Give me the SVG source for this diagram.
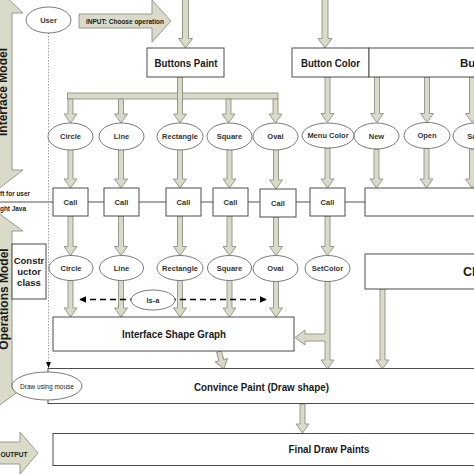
<svg xmlns="http://www.w3.org/2000/svg" width="474" height="474" viewBox="0 0 474 474">
<style>
.blk{fill:#d9dac8;stroke:#8f9086;stroke-width:0.9}
.box{fill:#ffffff;stroke:#4d4d4d;stroke-width:1}
.ov{fill:#ffffff;stroke:#6a6a6a;stroke-width:0.9}
.t{font-family:"Liberation Sans",Arial,sans-serif;fill:#1a1a1a;text-anchor:middle}
.b{font-weight:bold}
.o{font-size:7.5px;font-weight:bold;fill:#333}
.ln{stroke:#555;stroke-width:1;fill:none}
</style>
<defs>
<marker id="ah" viewBox="0 0 10 10" refX="9" refY="5" markerWidth="7" markerHeight="7" markerUnits="userSpaceOnUse" orient="auto-start-reverse">
<path d="M0,0 L10,5 L0,10 Z" fill="#000"/>
</marker>
</defs>
<rect width="474" height="474" fill="#ffffff"/>

<g id="side-arrows">
<path class="blk" d="M-3,-12 L23,13 H12 V170 H23 L-3,190 L-29,170 H-18 V13 H-29 Z"/>
<text class="t b" font-size="12" transform="translate(7,92) rotate(-90)">Interface Model</text>
<path class="blk" d="M-3,212 L23,231 H12 V388 H23 L-3,407 L-29,388 H-18 V231 H-29 Z"/>
<text class="t b" font-size="12" transform="translate(8,299) rotate(-90)">Operations Model</text>
</g>

<g id="connectors">
<line class="ln" x1="0" y1="202" x2="365" y2="202"/>
<line x1="48.5" y1="33" x2="48.5" y2="363" stroke="#888" stroke-width="0.8" stroke-dasharray="1.5,1.5"/>
<path d="M46,362 L51,362 L48.5,368 Z" fill="#000"/>
<path class="blk" d="M79,14 H152 V0 L171,21 L152,42 V28 H79 Z"/>
<path class="blk" d="M182.5,-2 V38.5 H178.5 L185.5,48 L192.5,38.5 H188.5 V-2 Z"/>
<path class="blk" d="M322,-2 V38.5 H318 L325,48 L332,38.5 H328 V-2 Z"/>
<rect class="blk" x="67.5" y="93" width="210.5" height="6"/>
<path class="blk" d="M68,99 V114 H64 L70.5,123 L77,114 H73 V99 Z"/>
<path class="blk" d="M118.5,99 V114 H114.5 L121,123 L127.5,114 H123.5 V99 Z"/>
<path class="blk" d="M226,99 V114 H222 L228.5,123 L235,114 H231 V99 Z"/>
<path class="blk" d="M273,99 V114 H269 L275.5,123 L282,114 H278 V99 Z"/>
<path class="blk" d="M177.5,77 V114 H173.5 L180,123 L186.5,114 H182.5 V77 Z"/>
<path class="blk" d="M325,77 V113.5 H321 L327.5,122.5 L334,113.5 H330 V77 Z"/>
<path class="blk" d="M374.5,77 V113.5 H370.5 L377,122.5 L383.5,113.5 H379.5 V77 Z"/>
<path class="blk" d="M424.5,77 V113.5 H420.5 L427,122.5 L433.5,113.5 H429.5 V77 Z"/>
<path class="blk" d="M469.5,77 V113.5 H465.5 L472,122.5 L478.5,113.5 H474.5 V77 Z"/>
<path class="blk" d="M68,149.5 V179 H64 L70.5,188 L77,179 H73 V149.5 Z"/>
<path class="blk" d="M118.5,149.5 V179 H114.5 L121,188 L127.5,179 H123.5 V149.5 Z"/>
<path class="blk" d="M177.5,149.5 V179 H173.5 L180,188 L186.5,179 H182.5 V149.5 Z"/>
<path class="blk" d="M227,149.5 V179 H223 L229.5,188 L236,179 H232 V149.5 Z"/>
<path class="blk" d="M273.5,149.5 V180 H269.5 L276,189 L282.5,180 H278.5 V149.5 Z"/>
<path class="blk" d="M325,148 V179 H321 L327.5,188 L334,179 H330 V148 Z"/>
<path class="blk" d="M374,149.5 V179 H370 L376.5,188 L383,179 H379 V149.5 Z"/>
<path class="blk" d="M424,148.5 V179 H420 L426.5,188 L433,179 H429 V148.5 Z"/>
<path class="blk" d="M469.5,149 V179 H465.5 L472,188 L478.5,179 H474.5 V149 Z"/>
<path class="blk" d="M68,216 V246.5 H64 L70.5,255.5 L77,246.5 H73 V216 Z"/>
<path class="blk" d="M118.5,216 V246.5 H114.5 L121,255.5 L127.5,246.5 H123.5 V216 Z"/>
<path class="blk" d="M177.5,216 V246.5 H173.5 L180,255.5 L186.5,246.5 H182.5 V216 Z"/>
<path class="blk" d="M227,216 V246.5 H223 L229.5,255.5 L236,246.5 H232 V216 Z"/>
<path class="blk" d="M273.5,217 V246.5 H269.5 L276,255.5 L282.5,246.5 H278.5 V217 Z"/>
<path class="blk" d="M325,216 V246.5 H321 L327.5,255.5 L334,246.5 H330 V216 Z"/>
<path class="blk" d="M68,280.5 V308 H64 L70.5,317 L77,308 H73 V280.5 Z"/>
<path class="blk" d="M118.5,280.5 V308 H114.5 L121,317 L127.5,308 H123.5 V280.5 Z"/>
<path class="blk" d="M177.5,280.5 V308 H173.5 L180,317 L186.5,308 H182.5 V280.5 Z"/>
<path class="blk" d="M227,280.5 V308 H223 L229.5,317 L236,308 H232 V280.5 Z"/>
<path class="blk" d="M273.5,281.5 V308 H269.5 L276,317 L282.5,308 H278.5 V281.5 Z"/>
<path class="blk" d="M325,281.5 V334 H305 V330 L295,337.5 L305,345 V341 H325 V360 H321 L327.5,369 L334,360 H330 V281.5 Z"/>
<path class="blk" d="M380,289 V360 H376 L382.5,369 L389,360 H385 V289 Z"/>
<path class="blk" transform="translate(219,351.5) rotate(-15)" d="M-2.5,0 V9 H-6.5 L0,18 L6.5,9 H2.5 V0 Z"/>
<path class="blk" d="M300,404 V424 H296 L302.5,433 L309,424 H305 V404 Z"/>
<path class="blk" d="M-2,442 H20 V432 L38,453 L20,474 V464 H-2 Z"/>
<line x1="80" y1="299.5" x2="266" y2="299.5" stroke="#000" stroke-width="1.3" stroke-dasharray="6,4" marker-start="url(#ah)" marker-end="url(#ah)"/>
</g>

<g id="labels-edge">
<text class="t b" font-size="8" x="125" y="24" textLength="78" lengthAdjust="spacingAndGlyphs">INPUT: Choose operation</text>
<text class="t b" font-size="7.5" x="14" y="457" textLength="27" lengthAdjust="spacingAndGlyphs">OUTPUT</text>
<text class="t b" font-size="7" x="15" y="196" textLength="30" lengthAdjust="spacingAndGlyphs">ft for user</text>
<text class="t b" font-size="7" x="13" y="211" textLength="26" lengthAdjust="spacingAndGlyphs">ght Java</text>
</g>

<g id="user"><ellipse class="ov" cx="48.5" cy="20" rx="22.5" ry="13"/><text class="t o" x="48.5" y="23">User</text></g>

<g id="buttons-paint"><rect class="box" x="147" y="48" width="77" height="29"/><text class="t b" font-size="11.5" x="186" y="66.5" textLength="63" lengthAdjust="spacingAndGlyphs">Buttons Paint</text></g>
<g id="button-color"><rect class="box" x="292" y="48" width="77" height="29"/><text class="t b" font-size="11.5" x="330.5" y="66.5" textLength="59" lengthAdjust="spacingAndGlyphs">Button Color</text></g>
<g id="button-more"><rect class="box" x="369" y="48" width="120" height="29"/><text class="t b" font-size="11.5" x="460" y="66.5" style="text-anchor:start">Button</text></g>

<g id="o1-circle"><ellipse class="ov" cx="70.5" cy="136.5" rx="22.5" ry="13.5"/><text class="t o" x="70.5" y="139">Circle</text></g>
<g id="o1-line"><ellipse class="ov" cx="121.5" cy="136.5" rx="22.5" ry="13.5"/><text class="t o" x="121.5" y="139">Line</text></g>
<g id="o1-rectangle"><ellipse class="ov" cx="180" cy="136.5" rx="23" ry="13.5"/><text class="t o" x="180" y="139">Rectangle</text></g>
<g id="o1-square"><ellipse class="ov" cx="229.5" cy="136.5" rx="22.5" ry="13.5"/><text class="t o" x="229.5" y="139">Square</text></g>
<g id="o1-oval"><ellipse class="ov" cx="275.5" cy="136.5" rx="22.5" ry="13.5"/><text class="t o" x="275.5" y="139">Oval</text></g>
<g id="o1-menucolor"><ellipse class="ov" cx="328" cy="135.5" rx="26" ry="12.5"/><text class="t o" x="328" y="138">Menu Color</text></g>
<g id="o1-new"><ellipse class="ov" cx="376.5" cy="136" rx="22.5" ry="13"/><text class="t o" x="376.5" y="138.5">New</text></g>
<g id="o1-open"><ellipse class="ov" cx="427" cy="135.5" rx="23" ry="13"/><text class="t o" x="427" y="138">Open</text></g>
<g id="o1-save"><ellipse class="ov" cx="476" cy="136" rx="23" ry="13"/><text class="t o" x="476" y="138.5">Save</text></g>

<g id="call-1"><rect class="box" x="53" y="188" width="35" height="28"/><text class="t o" x="70.5" y="205">Call</text></g>
<g id="call-2"><rect class="box" x="104" y="188" width="35" height="28"/><text class="t o" x="121.5" y="205">Call</text></g>
<g id="call-3"><rect class="box" x="166" y="188" width="35" height="28"/><text class="t o" x="183.5" y="205">Call</text></g>
<g id="call-4"><rect class="box" x="213" y="188" width="35" height="28"/><text class="t o" x="230.5" y="205">Call</text></g>
<g id="call-5"><rect class="box" x="260" y="189" width="36" height="28"/><text class="t o" x="278" y="206">Call</text></g>
<g id="call-6"><rect class="box" x="310" y="188" width="35" height="28"/><text class="t o" x="327.5" y="205">Call</text></g>
<g id="call-big"><rect class="box" x="365" y="188" width="120" height="28"/></g>

<g id="o2-circle"><ellipse class="ov" cx="71" cy="268" rx="22" ry="12.5"/><text class="t o" x="71" y="270.5">Circle</text></g>
<g id="o2-line"><ellipse class="ov" cx="121.5" cy="268" rx="22" ry="12.5"/><text class="t o" x="121.5" y="270.5">Line</text></g>
<g id="o2-rectangle"><ellipse class="ov" cx="180" cy="268" rx="23" ry="12.5"/><text class="t o" x="180" y="270.5">Rectangle</text></g>
<g id="o2-square"><ellipse class="ov" cx="229.5" cy="268" rx="22" ry="12.5"/><text class="t o" x="229.5" y="270.5">Square</text></g>
<g id="o2-oval"><ellipse class="ov" cx="275.5" cy="268.5" rx="22.5" ry="13"/><text class="t o" x="275.5" y="271">Oval</text></g>
<g id="o2-setcolor"><ellipse class="ov" cx="327.5" cy="268.5" rx="22.5" ry="13"/><text class="t o" x="327.5" y="271">SetColor</text></g>
<g id="class-box"><rect class="box" x="365" y="254" width="120" height="35"/><text class="t b" font-size="12.5" x="463" y="276" style="text-anchor:start">Class</text></g>

<g id="constructor"><rect class="box" x="12" y="244" width="34" height="55"/>
<text class="t b" font-size="9.5" x="29" y="264">Constr</text><text class="t b" font-size="9.5" x="29" y="275">uctor</text><text class="t b" font-size="9.5" x="29" y="286">class</text></g>

<g id="is-a"><ellipse class="ov" cx="153" cy="300" rx="22" ry="10"/><text class="t o" x="153" y="302.5">Is-a</text></g>

<g id="interface-shape-graph"><rect class="box" x="53" y="317" width="241" height="34"/><text class="t b" font-size="11.5" x="174" y="338" textLength="104" lengthAdjust="spacingAndGlyphs">Interface Shape Graph</text></g>

<g id="convince-paint"><rect class="box" x="48" y="368.5" width="440" height="35"/><text class="t b" font-size="11.5" x="261.5" y="391" textLength="135" lengthAdjust="spacingAndGlyphs">Convince Paint (Draw shape)</text></g>

<g id="draw-mouse"><ellipse class="ov" cx="47" cy="386" rx="35" ry="14"/><text class="t" font-size="7.5" fill="#333" x="47" y="389" textLength="54" lengthAdjust="spacingAndGlyphs">Draw using mouse</text></g>

<g id="final-draw"><rect class="box" x="53" y="433.5" width="430" height="32"/><text class="t b" font-size="11" x="329" y="453" textLength="81" lengthAdjust="spacingAndGlyphs">Final Draw Paints</text></g>
</svg>
